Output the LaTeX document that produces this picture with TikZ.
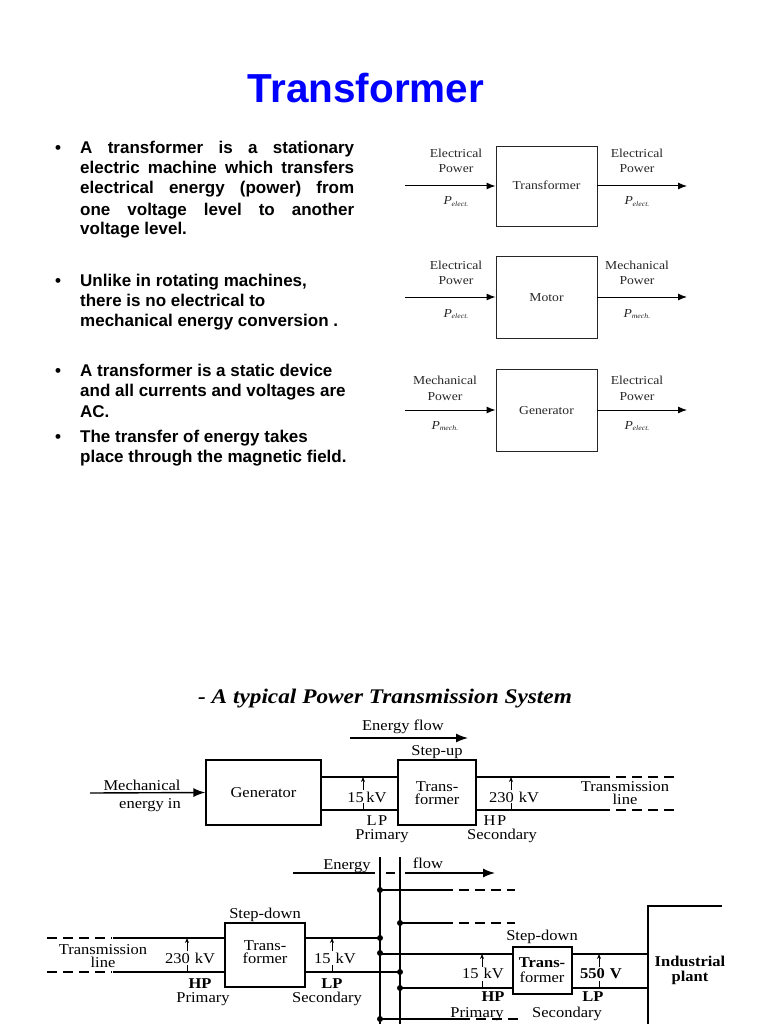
\documentclass[tikz,border=0pt]{standalone}
\usepackage{fontspec}
\setmainfont{Liberation Serif}
\newfontfamily\arialf{Liberation Sans}
\newfontfamily\scanf[FakeStretch=1.1]{Liberation Serif}
\newfontfamily\scanfB[FakeStretch=1.12]{Liberation Serif}
\newfontfamily\titlef[FakeStretch=1.12]{Liberation Serif}
\usetikzlibrary{arrows.meta}
\definecolor{titleblue}{RGB}{0,0,255}
\definecolor{tgray}{RGB}{40,40,40}
\newcommand\Psb[1]{\textit{P}\kern-0.3pt\raisebox{-1.8pt}{\fontsize{7}{7}\selectfont\textit{#1}}}
\newcommand\vlt[3]{%
  \draw[vline] (#1,#3) -- (#1,#3-7);
  \draw[vline,-{Stealth[length=5pt,width=4pt]}] (#1,#2+13) -- (#1,#2);}
\begin{document}
\begin{tikzpicture}[x=1pt,y=-1pt,
  bl/.style={anchor=base west,inner sep=0pt,font=\arialf\bfseries\fontsize{17}{20}\selectfont},
  bdot/.style={anchor=base,inner sep=0pt,font=\arialf\bfseries\fontsize{17}{20}\selectfont},
  tr/.style={inner sep=0pt,font=\scanfB\fontsize{12.2}{13}\selectfont,text height=8pt,text depth=0pt,text=tgray},
  blk/.style={draw=black!85,line width=0.9pt,inner sep=0pt,font=\scanfB\fontsize{12.2}{13}\selectfont,text height=8pt,text depth=0pt,text=tgray},
  tarr/.style={line width=1pt,-{Latex[length=9pt,width=7pt]}},
  lb/.style={inner sep=0pt,font=\scanf\fontsize{15}{16}\selectfont,text height=10pt,text depth=0pt},
  lbb/.style={lb,font=\scanf\bfseries\fontsize{15}{16}\selectfont},
  pbox/.style={draw,line width=1.3pt,inner sep=0pt,font=\scanf\fontsize{15}{16}\selectfont,text height=10pt,text depth=0pt},
  wire/.style={line width=1.3pt},
  dsh/.style={line width=1.3pt,dash pattern=on 10pt off 6pt},
  bus/.style={line width=1.8pt},
  vline/.style={line width=0.8pt},
  barr/.style={line width=1.4pt,-{Latex[length=12pt,width=9pt]}}
]
\useasboundingbox (0,0) rectangle (768,1024);
\fill[white] (0,0) rectangle (768,1024);

% title
\node[anchor=base,inner sep=0pt,font=\arialf\bfseries\fontsize{40.5}{44}\selectfont,text=titleblue] (title) at (366,103) {Transformer};

% bullets
\node[bdot] (d1) at (58,154) {•};
\node[bl] (b11) at (80,154) {\makebox[274pt][s]{A transformer is a stationary}};
\node[bl] (b12) at (80,174) {\makebox[274pt][s]{electric machine which transfers}};
\node[bl] (b13) at (80,194) {\makebox[274pt][s]{electrical energy (power) from}};
\node[bl] (b14) at (80,215) {\makebox[274pt][s]{one voltage level to another}};
\node[bl] (b15) at (80,235) {voltage level.};
\node[bdot] (d2) at (58,286) {•};
\node[bl] (b21) at (80,286) {Unlike in rotating machines,};
\node[bl] (b22) at (80,306) {there is no electrical to};
\node[bl] (b23) at (80,326) {mechanical energy conversion .};
\node[bdot] (d3) at (58,376) {•};
\node[bl] (b31) at (80,376) {A transformer is a static device};
\node[bl] (b32) at (80,396) {and all currents and voltages are};
\node[bl] (b33) at (80,417) {AC.};
\node[bdot] (d4) at (58,442) {•};
\node[bl] (b41) at (80,442) {The transfer of energy takes};
\node[bl] (b42) at (80,462) {place through the magnetic field.};

% top-right block diagrams
\node[blk,minimum width=101pt,minimum height=80pt] (tbox) at (546.5,186) {Transformer};
\node[blk,minimum width=101pt,minimum height=82pt] (mbox) at (546.5,297) {Motor};
\node[blk,minimum width=101pt,minimum height=82pt] (gbox) at (546.5,410) {Generator};
\coordinate (tin) at (405,186); \coordinate (tout) at (687,186);
\coordinate (min) at (405,297); \coordinate (mout) at (687,297);
\coordinate (gin) at (405,410); \coordinate (gout) at (687,410);
\draw[tarr] (tin) -- (tbox.west);
\draw[tarr] (tbox.east) -- (tout);
\draw[tarr] (min) -- (mbox.west);
\draw[tarr] (mbox.east) -- (mout);
\draw[tarr] (gin) -- (gbox.west);
\draw[tarr] (gbox.east) -- (gout);

\node[tr] (t1) at (456,154) {Electrical};
\node[tr] (t2) at (456,169) {Power};
\node[tr] (t3) at (456,201) {\Psb{elect.}};
\node[tr] (t4) at (637,154) {Electrical};
\node[tr] (t5) at (637,169) {Power};
\node[tr] (t6) at (637,201) {\Psb{elect.}};
\node[tr] (m1) at (456,265) {Electrical};
\node[tr] (m2) at (456,280) {Power};
\node[tr] (m3) at (456,313) {\Psb{elect.}};
\node[tr] (m4) at (637,265) {Mechanical};
\node[tr] (m5) at (637,280) {Power};
\node[tr] (m6) at (637,313) {\Psb{mech.}};
\node[tr] (g1) at (445,380) {Mechanical};
\node[tr] (g2) at (445,396) {Power};
\node[tr] (g3) at (445,425) {\Psb{mech.}};
\node[tr] (g4) at (637,380) {Electrical};
\node[tr] (g5) at (637,396) {Power};
\node[tr] (g6) at (637,425) {\Psb{elect.}};

% power transmission system title
\node[inner sep=0pt,font=\titlef\bfseries\itshape\fontsize{20.8}{22}\selectfont,text height=13pt,text depth=0pt] (pts) at (385,697) {- A typical Power Transmission System};

% upper system
\node[lb] (ef1) at (403,725) {Energy flow};
\coordinate (ef1a) at (350,738); \coordinate (ef1b) at (468,738);
\draw[barr] (ef1a) -- (ef1b);

\node[lb] (me1) at (142,785) {Mechanical};
\node[lb] (me2) at (150,803) {energy in};
\node[pbox,minimum width=115pt,minimum height=65pt] (gen) at (263.5,792.5) {Generator};
\coordinate (mein) at (90,793);
\draw[barr] (mein) -- (gen.west);

\node[pbox,minimum width=78pt,minimum height=65pt] (su) at (437,792.5) {};
\node[lb] (su0) at (437,750) {Step-up};
\node[lb] (su1) at (437,786) {Trans-};
\node[lb] (su2) at (437,799) {former};

\draw[wire] (gen.east |- 0,777) -- (su.west |- 0,777);
\draw[wire] (gen.east |- 0,810) -- (su.west |- 0,810);
\draw[wire] (su.east |- 0,777) -- (610,777);
\draw[wire] (su.east |- 0,810) -- (610,810);
\draw[dsh] (616,777) -- (678,777);
\draw[dsh] (616,810) -- (678,810);

\vlt{363}{777}{810}
\vlt{511}{777}{810}
\node[lb] (v1) at (367,797) {15\,kV};
\node[lb] (v2) at (514,797) {230\,\,kV};
\node[lb] (tl1) at (625,786) {Transmission};
\node[lb] (tl2) at (625,799) {line};
\node[lb] (lp1) at (377,820) {L\kern1.5pt P};
\node[lb] (pr1) at (382,834) {Primary};
\node[lb] (hp1) at (495,820) {H\kern1.5pt P};
\node[lb] (se1) at (502,834) {Secondary};

% lower system
\node[lb] (en) at (347,864) {Energy};
\node[lb] (fl) at (428,863) {flow};
\coordinate (enl) at (293,873); \coordinate (enr) at (375,873);
\draw[wire] (enl) -- (enr);
\draw[wire] (386,873) -- (395,873);
\coordinate (fla) at (405,873); \coordinate (flb) at (495,873);
\draw[barr] (fla) -- (flb);

\coordinate (b1t) at (380,857); \coordinate (b1b) at (380,1024);
\coordinate (b2t) at (400,857); \coordinate (b2b) at (400,1024);
\draw[bus] (b1t) -- (b1b);
\draw[bus] (b2t) -- (b2b);

% first step-down
\node[pbox,minimum width=80pt,minimum height=64pt] (sd1) at (265,955) {};
\node[lb] (sd10) at (265,913) {Step-down};
\node[lb] (sd11) at (265,945) {Trans-};
\node[lb] (sd12) at (265,958) {former};
\draw[dsh] (47,938) -- (112,938);
\draw[dsh] (47,972) -- (112,972);
\draw[wire] (113,938) -- (sd1.west |- 0,938);
\draw[wire] (113,972) -- (sd1.west |- 0,972);
\draw[wire] (sd1.east |- 0,938) -- (380,938);
\draw[wire] (sd1.east |- 0,972) -- (400,972);
\node[lb] (tl3) at (103,949) {Transmission};
\node[lb] (tl4) at (103,962) {line};
\vlt{187}{938}{972}
\vlt{332}{938}{972}
\node[lb] (v3) at (190,958) {230\,\,kV};
\node[lb] (v4) at (335,958) {15\,\,kV};
\node[lbb] (hp2) at (200,983) {HP};
\node[lb] (pr2) at (203,997) {Primary};
\node[lbb] (lp2) at (332,983) {LP};
\node[lb] (se2) at (327,997) {Secondary};

% feeders
\draw[wire] (380,890) -- (453,890);
\draw[dsh] (459,890) -- (515,890);
\draw[wire] (400,923) -- (453,923);
\draw[dsh] (459,923) -- (515,923);
\draw[wire] (380,1019) -- (470,1019);
\draw[dsh] (476,1019) -- (518,1019);

% second step-down
\node[pbox,minimum width=59pt,minimum height=47pt] (sd2) at (542.5,970.5) {};
\node[lb] (sd20) at (542,935) {Step-down};
\node[lbb] (sd21) at (542,962) {Trans-};
\node[lb] (sd22) at (542,977) {former};
\draw[wire] (380,954) -- (sd2.west |- 0,954);
\draw[wire] (400,988) -- (sd2.west |- 0,988);
\coordinate (pl1) at (648,954); \coordinate (pl2) at (648,988);
\draw[wire] (sd2.east |- 0,954) -- (pl1);
\draw[wire] (sd2.east |- 0,988) -- (pl2);
\vlt{482}{954}{988}
\vlt{599}{954}{988}
\node[lb] (v5) at (483,973) {15\,\,kV};
\node[lbb] (v6) at (601,973) {550\,\,V};
\node[lbb] (hp3) at (493,996) {HP};
\node[lb] (pr3) at (477,1012) {Primary};
\node[lbb] (lp3) at (593,996) {LP};
\node[lb] (se3) at (567,1012) {Secondary};

% industrial plant
\coordinate (ip1) at (722,906); \coordinate (ip2) at (648,906); \coordinate (ip3) at (648,1024);
\draw[wire] (ip1) -- (ip2) -- (ip3);
\node[lbb] (ind1) at (690,961) {Industrial};
\node[lbb] (ind2) at (690,976) {plant};

% bus dots
\foreach \yy in {890,938,953,1019} \fill (380,\yy) circle (3pt);
\foreach \yy in {923,972,988} \fill (400,\yy) circle (3pt);
\end{tikzpicture}
\end{document}
